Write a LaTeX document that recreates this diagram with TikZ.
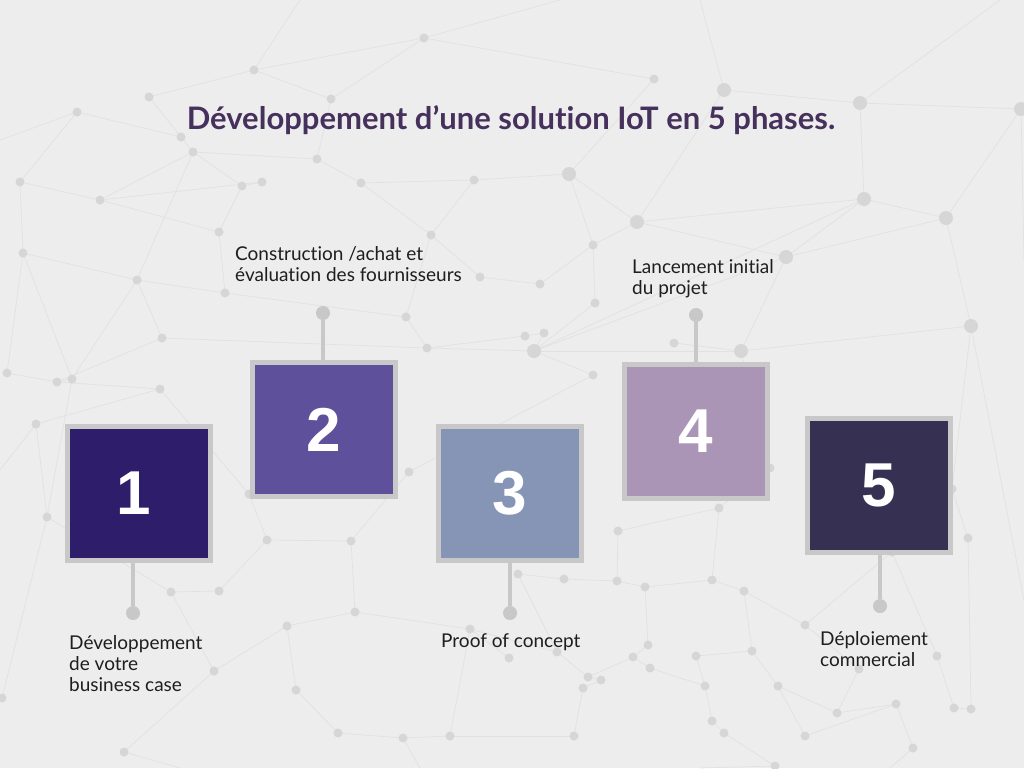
\documentclass[tikz,border=0pt]{standalone}
\usepackage{fontspec}
\setmainfont{Lato}[Ligatures=NoCommon]
\newfontfamily\digitfont{Liberation Sans}
\usepackage{xcolor}

\definecolor{bgcol}{RGB}{237,237,237}
\definecolor{netcol}{RGB}{225,225,225}
\definecolor{dotcol}{RGB}{214,214,214}
\definecolor{edgecol}{RGB}{200,200,200}
\definecolor{titlecol}{RGB}{70,48,92}
\definecolor{labelcol}{RGB}{30,30,30}
\definecolor{oneCol}{RGB}{46,29,107}
\definecolor{twoCol}{RGB}{94,80,154}
\definecolor{threeCol}{RGB}{134,149,182}
\definecolor{fourCol}{RGB}{170,149,182}
\definecolor{fiveCol}{RGB}{54,49,82}

% background network points (name/x/y in pixels)
\newcommand\smalldots{a1/424/38, a2/254/70, a3/149/97, a4/331/99, a5/77/112, a6/181/137,
  a7/193/152, a8/317/159, a9/20/182, a10/242/186, a11/262/182, a12/361/183, a13/474/180,
  a14/100/200, a15/219/232, a16/431/235, a17/23/253, a18/137/280, a19/225/293, a20/406/317,
  a21/480/277, a22/162/338, a23/427/348, a24/7/373, a25/72/379, a26/57/382,
  b1/654/79, b9/593/245, b11/540/284, b12/595/303, b13/544/333, b14/525/336, b16/674/343, b19/593/375,
  c2/160/389, c3/36/424, c4/47/517, c5/249/494, c6/409/472, c7/267/540, c8/351/541, c9/171/592,
  c10/219/591, c11/355/612, c12/287/626, c13/470/629, c14/214/671, c15/2/698, c16/296/690,
  c17/509/658, c18/338/733, c19/403/738, c20/450/736, c21/124/752,
  e1/770/468, e2/952/489, e3/968/538, e4/719/508, e5/618/531, e6/518/574, e7/564/579, e8/617/581,
  e9/645/587, e10/712/580, e11/744/591, e12/892/552, e13/805/625, e14/648/645, e15/633/657,
  e16/650/668, e17/696/656, e18/752/651, e19/557/652, e20/588/677, e21/601/680, e22/583/688,
  e23/705/686, e24/778/686, e25/937/656, e26/859/669, e27/896/704, e28/837/713, e29/954/708,
  e30/971/709, e31/712/721, e32/724/733, e33/574/736, e34/805/736, e35/913/748, e36/775/766}
\newcommand\bigdots{b2/724/90, b3/860/103, b4/1021/109, b5/569/174, b6/864/199, b7/946/218,
  b8/637/222, b10/786/257, b15/534/351, b17/741/351, b18/971/326}
\newcommand\rimpoints{t1/300/0, t2/560/0, t3/700/0, t4/1000/0, l1/0/140, l2/0/470,
  r1/1024/260, r2/1024/600, s1/180/768, s2/420/768, s3/700/768, s4/890/768}

\begin{document}
\begin{tikzpicture}[x=1pt,y=-1pt,
    net/.style={draw=netcol,line width=0.7pt},
    phasebox/.style={draw=edgecol,line width=5pt,minimum width=143pt,minimum height=134pt,
      inner sep=0pt,text=white,font=\digitfont\bfseries\fontsize{62}{62}\selectfont},
    stemline/.style={draw=edgecol,line width=4pt},
    knob/.style={circle,fill=edgecol,minimum size=14pt,inner sep=0pt},
    phasetext/.style={anchor=north west,align=left,inner sep=0pt,text=labelcol,
      font=\fontsize{19}{21}\selectfont}]

    % Background
    \fill[bgcol] (0,0) rectangle (1024,768);
    \useasboundingbox (0,0) rectangle (1024,768);

    % Network points
    \foreach \n/\x/\y in \smalldots {\coordinate (\n) at (\x,\y);}
    \foreach \n/\x/\y in \bigdots {\coordinate (\n) at (\x,\y);}
    \foreach \n/\x/\y in \rimpoints {\coordinate (\n) at (\x,\y);}

    % Network lines
    \foreach \p/\q in {a1/a2, a1/a4, a2/a4, a3/a2, a3/a6, a5/a6, a6/a7, a7/a8, a4/a8, a8/a12,
        a7/a10, a7/a14, a9/a14, a14/a11, a10/a11, a12/a13, a7/a18, a14/a15, a15/a19, a18/a17,
        a18/a22, a18/a19, a12/a16, a13/a16, a16/a21, a16/a20, a20/a23, a9/a17, a25/a18, a22/a26,
        a5/a9, a10/a15, a19/a20, a22/a23, a23/b15, a21/b11, a13/b5, a1/b1, a17/a25, a24/a26,
        a25/a26, a24/a17, a5/l1, a2/t1, a1/t2,
        b1/b5, b2/b3, b3/b6, b3/b4, b5/b8, b8/b6, b6/b7, b6/b10, b7/b10, b7/b18, b8/b10, b9/b12,
        b9/b8, b15/b6, b15/b10, b15/b17, b17/b18, b15/b13, b13/b14, b11/b9, b16/b17, b4/b7,
        b2/t3, b3/t4, b12/b15, b10/b17, b18/r2, b4/r1, b2/b8, b5/b9, b19/b15, b14/a23,
        c2/a26, c2/c3, c3/c4, c4/a25, c5/c7, c7/c8, c8/c11, c9/c10, c10/c7, c12/c11, c12/c16,
        c14/c12, c16/c18, c18/c19, c19/c20, c13/c20, c6/c8, c5/c2, c14/c21, c15/c4, c9/c14,
        c6/b19, c13/c11, c21/s1, c19/s2, c3/l2, c4/c9, c13/e19, c17/c13,
        e1/e4, e4/e5, e5/e8, e8/e9, e6/e7, e7/e8, e10/e11, e10/e4, e9/e14, e14/e15, e15/e16,
        e15/e20, e20/e21, e21/e22, e17/e18, e18/e11, e23/e17, e24/e18, e24/e28, e26/e28, e27/e35,
        e25/e29, e29/e30, e31/e32, e32/e36, e34/e24, e33/e22, e12/e25, e12/e2, e2/e3, e13/e12,
        e3/e30, e6/e19, e19/e20, e16/e23, e31/e23, e36/s3, e35/s4, e26/e13, e27/e28, e1/b17,
        e9/e10, e33/c20, e34/e27, e11/e13, e2/b18}
      \draw[net] (\p) -- (\q);

    % Network dots
    \foreach \n/\x/\y in \smalldots {\fill[dotcol] (\n) circle (4.5);}
    \foreach \n/\x/\y in \bigdots {\fill[dotcol] (\n) circle (7);}

    % Title
    \node[text=titlecol,font=\bfseries\fontsize{31}{35}\selectfont,anchor=base] (title)
      at (511,129) {Développement d’une solution IoT en 5 phases.};

    % Stems and knobs
    \node[knob] (d1) at (133,613) {};
    \node[knob] (d2) at (323,313) {};
    \node[knob] (d3) at (510,613) {};
    \node[knob] (d4) at (696,315) {};
    \node[knob] (d5) at (880,606) {};

    \coordinate (p1) at (139,493.5);
    \coordinate (p2) at (324,429.5);
    \coordinate (p3) at (510,493);
    \coordinate (p4) at (696,431);
    \coordinate (p5) at (879,485);

    \draw[stemline] (p1 -| d1) -- (d1);
    \draw[stemline] (p2 -| d2) -- (d2);
    \draw[stemline] (p3 -| d3) -- (d3);
    \draw[stemline] (p4 -| d4) -- (d4);
    \draw[stemline] (p5 -| d5) -- (d5);

    % Phase boxes
    \node[phasebox,fill=oneCol] (ph1) at (p1) {\hspace*{-10pt}1};
    \node[phasebox,fill=twoCol] (ph2) at (p2) {2};
    \node[phasebox,fill=threeCol] (ph3) at (p3) {3};
    \node[phasebox,fill=fourCol] (ph4) at (p4) {4};
    \node[phasebox,fill=fiveCol] (ph5) at (p5) {5};

    % Phase labels
    \node[phasetext] (t1) at (69,635) {Développement\\de votre\\business case};
    \node[phasetext] (t2) at (235,246) {Construction /achat et\\évaluation des fournisseurs};
    \node[phasetext] (t3) at (441,633) {Proof of concept};
    \node[phasetext] (t4) at (632,259) {Lancement initial\\du projet};
    \node[phasetext] (t5) at (820,631) {Déploiement\\commercial};
\end{tikzpicture}
\end{document}
